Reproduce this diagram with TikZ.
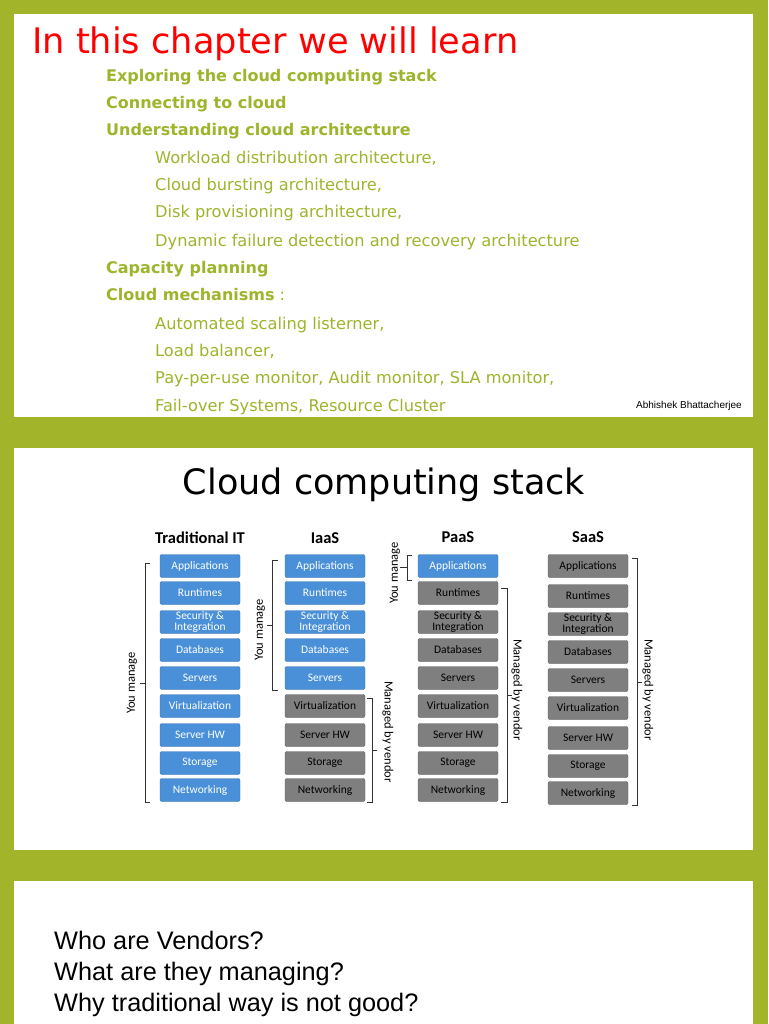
\documentclass[tikz,border=0pt]{standalone}
\usepackage{fontspec}
\setmainfont{Liberation Sans}
\newfontfamily\seg{DejaVu Sans}
\newfontfamily\calfnt{Carlito}
\definecolor{bggreen}{HTML}{A2B52A}
\definecolor{itemgreen}{HTML}{9DB52C}
\definecolor{boxblue}{HTML}{4A90D9}
\definecolor{boxgray}{HTML}{7F7F7F}
\tikzset{
 bl/.style={draw=boxblue!80!black,fill=boxblue,rounded corners=2pt,minimum width=80pt,minimum height=23pt,text=white,font=\calfnt\fontsize{11.5}{11.5}\selectfont,align=center,inner sep=0pt},
 gr/.style={bl,draw=boxgray!70!black,fill=boxgray,text=black},
 brk/.style={draw=black!80,line width=0.7pt},
 rl/.style={font=\calfnt\fontsize{12.5}{12}\selectfont},
 hd/.style={font=\calfnt\bfseries\fontsize{16.5}{16}\selectfont},
 it/.style={anchor=base west,text=itemgreen,font=\seg\bfseries\fontsize{16}{16}\selectfont,inner sep=0pt},
 si/.style={anchor=base west,text=itemgreen,font=\seg\fontsize{16.2}{16}\selectfont,inner sep=0pt},
}
\begin{document}
\begin{tikzpicture}[x=1pt,y=-1pt]
\fill[bggreen] (0,0) rectangle (768,1024);
\useasboundingbox (0,0) rectangle (768,1024);
\fill[white] (14,14) rectangle (753,417);
\fill[white] (14,448) rectangle (753,850);
\fill[white] (14,881) rectangle (753,1024);
% slide 1
\node[anchor=base west,text=red,font=\seg\fontsize{35.2}{36}\selectfont,inner sep=0pt] (t1) at (32,54) {In this chapter we will learn};
\node[it] (a1) at (106,82) {Exploring the cloud computing stack};
\node[it] (a2) at (106,109) {Connecting to cloud};
\node[it] (a3) at (106,136) {Understanding cloud architecture};
\node[si] (b1) at (155,164) {Workload distribution architecture,};
\node[si] (b2) at (155,191) {Cloud bursting architecture,};
\node[si] (b3) at (155,218) {Disk provisioning architecture,};
\node[si] (b4) at (155,246) {Dynamic failure detection and recovery architecture};
\node[it] (a4) at (106,273) {Capacity planning};
\node[it] (a5) at (106,300) {Cloud mechanisms\mdseries{} :};
\node[si] (c1) at (155,329) {Automated scaling listerner,};
\node[si] (c2) at (155,356) {Load balancer,};
\node[si] (c3) at (155,383) {Pay-per-use monitor, Audit monitor, SLA monitor,};
\node[si] (c4) at (155,411) {Fail-over Systems, Resource Cluster};
\node[anchor=base east,font=\fontsize{10}{10}\selectfont,inner sep=0pt] (au) at (742,408) {Abhishek Bhattacherjee};
% slide 2
\node[font=\seg\fontsize{35}{36}\selectfont] (t2) at (384,485) {Cloud computing stack};
\node[hd] (h1) at (200,538) {Traditional IT};
\node[hd] (h2) at (325,538) {IaaS};
\node[hd] (h3) at (458,537) {PaaS};
\node[hd] (h4) at (588,537) {SaaS};
\foreach \n [count=\i] in {Applications,Runtimes,{Security \&\\Integration},Databases,Servers,Virtualization,Server HW,Storage,Networking}{
  \pgfmathsetmacro\yy{{566,593,622,650,678,706,735,763,790}[\i-1]}
  \pgfmathsetmacro\yz{{566,596,624,652,680,708,738,766,793}[\i-1]}
  \node[bl] (t\i) at (200,\yy) {\n};
  \ifnum\i<6 \node[bl] (i\i) at (325,\yy) {\n}; \else \node[gr] (i\i) at (325,\yy) {\n}; \fi
  \ifnum\i<2 \node[bl] (p\i) at (458,\yy) {\n}; \else \node[gr] (p\i) at (458,\yy) {\n}; \fi
  \node[gr] (s\i) at (588,\yz) {\n};
}
% brackets
\draw[brk] (150,563)--(145,563)--(145,802)--(150,802) (145,683)--(140,683);
\node[rl,rotate=90] (l1) at (132,683) {You manage};
\draw[brk] (278,560)--(272,560)--(272,690)--(278,690) (272,625)--(267,625);
\node[rl,rotate=90] (l2) at (260,630) {You manage};
\draw[brk] (367,698)--(372,698)--(372,802)--(367,802) (372,750)--(377,750);
\node[rl,rotate=-90] (l3) at (388,732) {Managed by vendor};
\draw[brk] (412,555)--(407,555)--(407,580)--(412,580) (407,567)--(400,567);
\node[rl,rotate=90] (l4) at (395,573) {You manage};
\draw[brk] (501,588)--(507,588)--(507,802)--(501,802) (507,695)--(512,695);
\node[rl,rotate=-90] (l5) at (517,690) {Managed by vendor};
\draw[brk] (632,558)--(637,558)--(637,805)--(632,805) (637,682)--(642,682);
\node[rl,rotate=-90] (l6) at (648,690) {Managed by vendor};
% slide 3
\node[anchor=base west,font=\fontsize{25.3}{26}\selectfont,inner sep=0pt] (q1) at (54,949) {Who are Vendors?};
\node[anchor=base west,font=\fontsize{25.3}{26}\selectfont,inner sep=0pt] (q2) at (54,980) {What are they managing?};
\node[anchor=base west,font=\fontsize{25.3}{26}\selectfont,inner sep=0pt] (q3) at (54,1011) {Why traditional way is not good?};
\end{tikzpicture}
\end{document}
